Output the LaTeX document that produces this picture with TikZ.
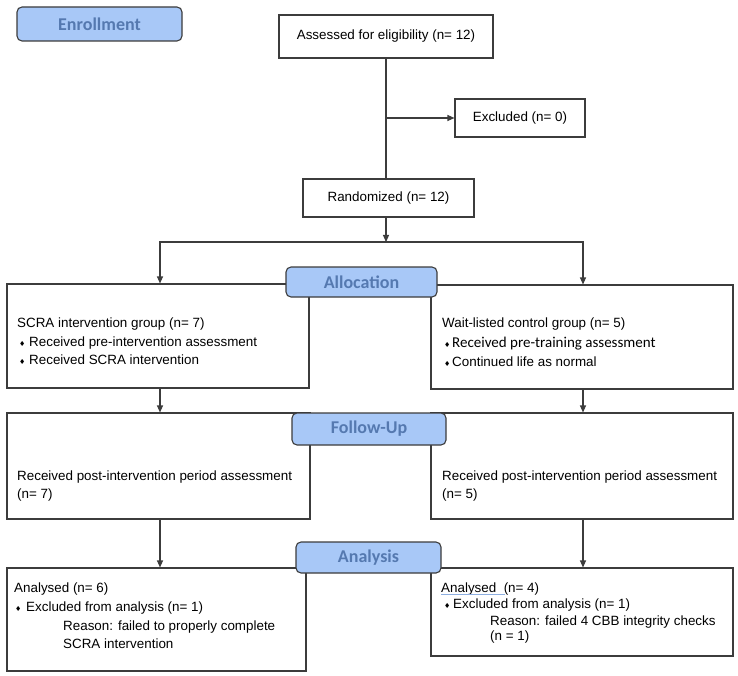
\documentclass[tikz,border=0pt]{standalone}
\usepackage{fontspec}
\setmainfont{Liberation Sans}
\newfontfamily\calib{Carlito}
\newfontfamily\dvs{DejaVu Sans}
\usetikzlibrary{arrows.meta}
\definecolor{lblfill}{HTML}{A8C8F7}
\definecolor{lbltext}{HTML}{5579B0}
\definecolor{lnc}{HTML}{3C3C3C}
\definecolor{ulc}{HTML}{8DAEE0}
\newcommand{\bul}{{\dvs\fontsize{7}{7}\selectfont ♦}}
\begin{document}
\begin{tikzpicture}[x=1pt,y=-1pt,
  box/.style={draw=lnc,line width=1.1pt,fill=white,inner sep=0pt,font=\fontsize{13.4}{16}\selectfont},
  lbl/.style={draw=lnc,line width=1.1pt,fill=lblfill,rounded corners=5pt,inner sep=0pt,
     text=lbltext,font=\calib\bfseries\fontsize{18}{21}\selectfont},
  txt/.style={anchor=base west,inner sep=0pt,font=\fontsize{13.4}{16}\selectfont},
  ln/.style={draw=lnc,line width=1.1pt},
  arr/.style={ln,-{Triangle[length=7pt,width=6pt]}}]
\useasboundingbox (0,0) rectangle (738,676);
\fill[white] (0,0) rectangle (738,676);
% boxes
\node[box,minimum width=214pt,minimum height=43pt] (assess) at (386,36.5) {Assessed for eligibility (n= 12)};
\node[box,minimum width=130pt,minimum height=38pt] (excl) at (520,118) {Excluded (n= 0)\hspace{8pt}};
\node[box,minimum width=171pt,minimum height=38pt] (rand) at (388.5,198) {Randomized (n= 12)};
\node[box,minimum width=302pt,minimum height=104pt] (allocL) at (158,336) {};
\node[box,minimum width=302pt,minimum height=104pt] (allocR) at (582,337) {};
\node[box,minimum width=303pt,minimum height=106pt] (fuL) at (158.5,466) {};
\node[box,minimum width=302pt,minimum height=106pt] (fuR) at (582,466) {};
\node[box,minimum width=299pt,minimum height=103pt] (anL) at (156.5,619.5) {};
\node[box,minimum width=302pt,minimum height=88pt] (anR) at (582,612) {};
% columns
\coordinate (colL) at (160,0);
\coordinate (colR) at (583,0);
\coordinate (split) at (386,242);
% connectors
\draw[ln] (assess.south) -- (assess.south |- rand.north);
\draw[arr] (assess.south |- excl.west) -- (excl.west);
\draw[arr] (assess.south |- rand.south) -- (split);
\draw[arr] (split) -| (allocL.north -| colL);
\draw[arr] (split) -| (allocR.north -| colR);
\draw[arr] (allocL.south -| colL) -- (fuL.north -| colL);
\draw[arr] (allocR.south -| colR) -- (fuR.north -| colR);
\draw[arr] (fuL.south -| colL) -- (anL.north -| colL);
\draw[arr] (fuR.south -| colR) -- (anR.north -| colR);
% labels
\node[lbl,minimum width=165pt,minimum height=34pt] (enr) at (99.5,24) {Enrollment};
\node[lbl,minimum width=151pt,minimum height=30pt] (alloc) at (361.5,282) {Allocation};
\node[lbl,minimum width=154pt,minimum height=32pt] (fu) at (369,429) {Follow-Up};
\node[lbl,minimum width=145pt,minimum height=31pt] (an) at (368.5,557.5) {Analysis};
% texts allocation
\node[txt] (tL1) at (17,327) {SCRA intervention group (n= 7)};
\node[txt] (bL2) at (19,346) {\bul};
\node[txt] (tL2) at (29,346) {Received pre-intervention assessment};
\node[txt] (bL3) at (19,364) {\bul};
\node[txt] (tL3) at (29,364) {Received SCRA intervention};
\node[txt] (tR1) at (442,327) {Wait-listed control group (n= 5)};
\node[txt] (bR2) at (444,347) {\bul};
\node[txt,font=\calib\fontsize{15}{18}\selectfont] (tR2) at (452,347) {Received pre-training assessment};
\node[txt] (bR3) at (444,366) {\bul};
\node[txt] (tR3) at (452,366) {Continued life as normal};
% texts follow-up
\node[txt] (fL1) at (17,480) {Received post-intervention period assessment};
\node[txt] (fL2) at (17,498) {(n= 7)};
\node[txt] (fR1) at (442,480) {Received post-intervention period assessment};
\node[txt] (fR2) at (442,498) {(n= 5)};
% texts analysis
\node[txt] (aL1) at (14,592) {Analysed (n= 6)};
\node[txt] (baL2) at (15,611) {\bul};
\node[txt] (aL2) at (26,611) {Excluded from analysis (n= 1)};
\node[txt] (aL3) at (63,630) {Reason: failed to properly complete};
\node[txt] (aL4) at (63,648) {SCRA intervention};
\node[txt] (aR1) at (441,592) {Analysed\ \ (n= 4)};
\node[txt] (baR2) at (444,608) {\bul};
\node[txt] (aR2) at (453,608) {Excluded from analysis (n= 1)};
\node[txt] (aR3) at (490,625) {Reason: failed 4 CBB integrity checks};
\node[txt] (aR4) at (490,640) {(n = 1)};
\draw[ulc,line width=0.9pt] (aR1.base west) ++(0,2) -- ++(64,0);
\end{tikzpicture}
\end{document}
